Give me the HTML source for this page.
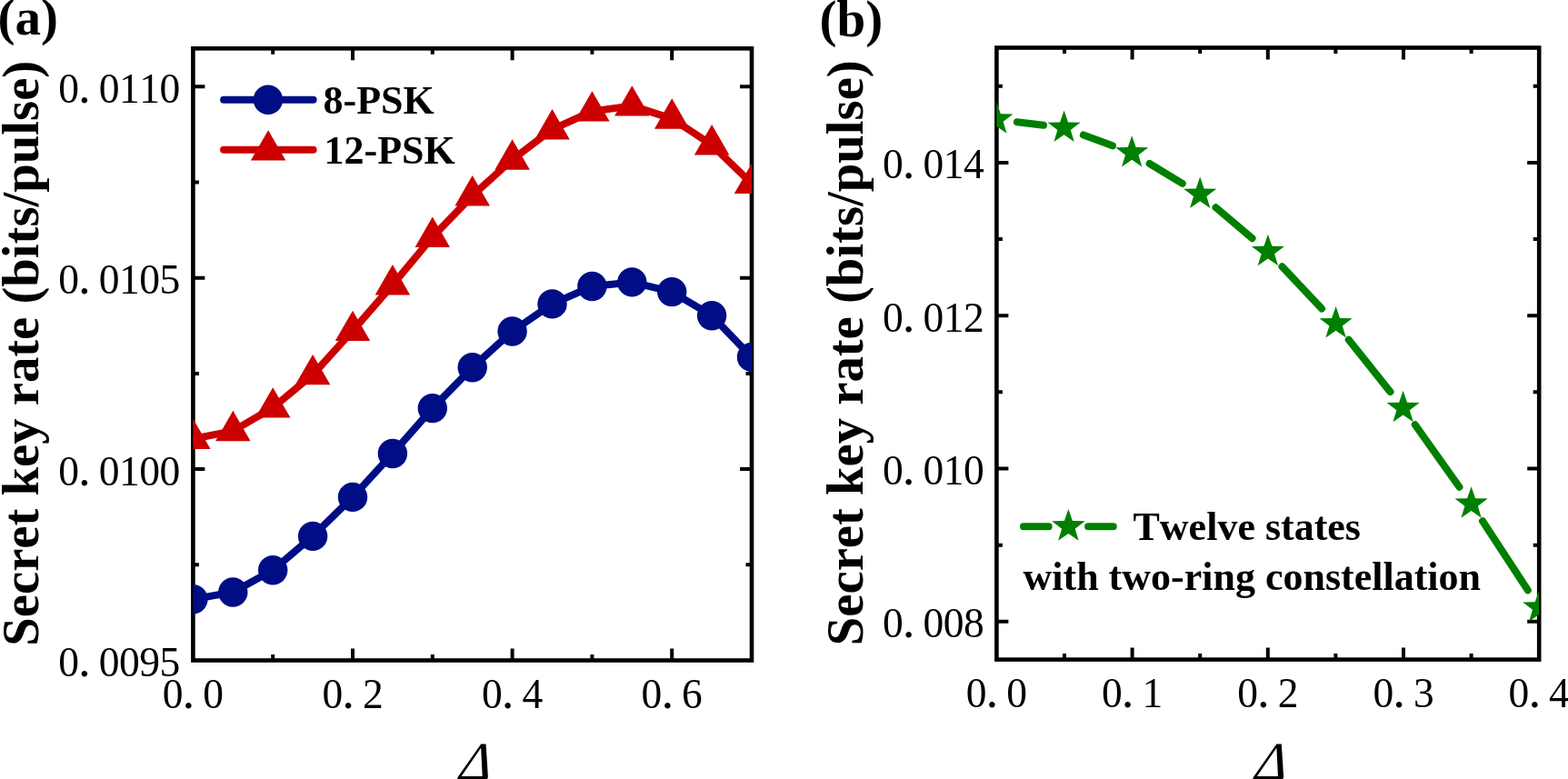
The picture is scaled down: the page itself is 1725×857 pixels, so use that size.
<!DOCTYPE html>
<html><head><meta charset="utf-8"><title>Secret key rate vs Delta</title>
<style>html,body{margin:0;padding:0;background:#fff;}body{width:1725px;height:857px;overflow:hidden;}svg{display:block;}text{font-kerning:none;}</style>
</head><body>
<svg width="1725" height="857" viewBox="0 0 1725 857">
<defs><clipPath id="ca"><rect x="212.4" y="53.3" width="614.6" height="673.2"/></clipPath>
<clipPath id="cb"><rect x="1096.4" y="52.5" width="596.8" height="673.1"/></clipPath></defs>
<rect width="1725" height="857" fill="#fff"/>
<path d="M388 726.5V713.5M388 53.3V66.3M563.6 726.5V713.5M563.6 53.3V66.3M739.2 726.5V713.5M739.2 53.3V66.3M300.2 726.5V720M300.2 53.3V59.8M475.8 726.5V720M475.8 53.3V59.8M651.4 726.5V720M651.4 53.3V59.8M212.4 516.1H225.4M827 516.1H814M212.4 305.7H225.4M827 305.7H814M212.4 95.3H225.4M827 95.3H814M212.4 621.3H218.9M827 621.3H820.5M212.4 410.9H218.9M827 410.9H820.5M212.4 200.5H218.9M827 200.5H820.5" stroke="#000" stroke-width="4" fill="none"/>
<rect x="212.4" y="53.3" width="614.6" height="673.2" stroke="#000" stroke-width="4.6" fill="none"/>
<path d="M1245.6 725.6V712.6M1245.6 52.5V65.5M1394.8 725.6V712.6M1394.8 52.5V65.5M1544 725.6V712.6M1544 52.5V65.5M1171 725.6V719.1M1171 52.5V59M1320.2 725.6V719.1M1320.2 52.5V59M1469.4 725.6V719.1M1469.4 52.5V59M1618.6 725.6V719.1M1618.6 52.5V59M1096.4 683.8H1109.4M1693.2 683.8H1680.2M1096.4 515.5H1109.4M1693.2 515.5H1680.2M1096.4 347.2H1109.4M1693.2 347.2H1680.2M1096.4 178.9H1109.4M1693.2 178.9H1680.2M1096.4 599.65H1102.9M1693.2 599.65H1686.7M1096.4 431.35H1102.9M1693.2 431.35H1686.7M1096.4 263.05H1102.9M1693.2 263.05H1686.7M1096.4 94.75H1102.9M1693.2 94.75H1686.7" stroke="#000" stroke-width="4" fill="none"/>
<rect x="1096.4" y="52.5" width="596.8" height="673.1" stroke="#000" stroke-width="4.6" fill="none"/>
<g clip-path="url(#ca)">
<polyline points="212.4,482.8 256.3,474.1 300.2,448.5 344.1,412.2 388,363.9 431.9,313.3 475.8,260.8 519.7,215.3 563.6,175.6 607.5,142.3 651.4,122.5 695.3,116.4 739.2,130.6 783.1,159.3 827,202" fill="none" stroke="#cc0000" stroke-width="8" stroke-linejoin="round" stroke-linecap="round"/>
<path d="M212.4 460.57L231.65 493.91L193.15 493.91ZM256.3 451.87L275.55 485.21L237.05 485.21ZM300.2 426.27L319.45 459.61L280.95 459.61ZM344.1 389.97L363.35 423.31L324.85 423.31ZM388 341.67L407.25 375.01L368.75 375.01ZM431.9 291.07L451.15 324.41L412.65 324.41ZM475.8 238.57L495.05 271.91L456.55 271.91ZM519.7 193.07L538.95 226.41L500.45 226.41ZM563.6 153.37L582.85 186.71L544.35 186.71ZM607.5 120.07L626.75 153.41L588.25 153.41ZM651.4 100.27L670.65 133.61L632.15 133.61ZM695.3 94.17L714.55 127.51L676.05 127.51ZM739.2 108.37L758.45 141.71L719.95 141.71ZM783.1 137.07L802.35 170.41L763.85 170.41ZM827 179.77L846.25 213.11L807.75 213.11Z" fill="#cc0000"/>
<polyline points="212.4,659.3 256.3,651.5 300.2,627.2 344.1,589.9 388,546.9 431.9,499 475.8,449.1 519.7,404.3 563.6,364.5 607.5,334.4 651.4,315 695.3,310.4 739.2,321.1 783.1,347.2 827,392.9" fill="none" stroke="#000d85" stroke-width="8" stroke-linejoin="round" stroke-linecap="round"/>
<g fill="#000d85"><circle cx="212.4" cy="659.3" r="16.2"/><circle cx="256.3" cy="651.5" r="16.2"/><circle cx="300.2" cy="627.2" r="16.2"/><circle cx="344.1" cy="589.9" r="16.2"/><circle cx="388" cy="546.9" r="16.2"/><circle cx="431.9" cy="499" r="16.2"/><circle cx="475.8" cy="449.1" r="16.2"/><circle cx="519.7" cy="404.3" r="16.2"/><circle cx="563.6" cy="364.5" r="16.2"/><circle cx="607.5" cy="334.4" r="16.2"/><circle cx="651.4" cy="315" r="16.2"/><circle cx="695.3" cy="310.4" r="16.2"/><circle cx="739.2" cy="321.1" r="16.2"/><circle cx="783.1" cy="347.2" r="16.2"/><circle cx="827" cy="392.9" r="16.2"/></g>
</g>
<g clip-path="url(#cb)">
<path d="M1118.93 134.19L1148.07 137.81M1191.89 148.48L1223.91 160.32M1264.62 179.96L1300.78 201.84M1337.53 228.26L1377.57 262.14M1410.46 293.32L1454.04 339.58M1483.76 373.84L1529.44 431.06M1556.75 467.3L1605.45 535.8M1631.03 573.29L1680.77 649.31" stroke="#007f00" stroke-width="8" stroke-linecap="round" fill="none"/>
<path d="M1096.4 112.4L1100.87 125.25L1114.47 125.53L1103.63 133.75L1107.57 146.77L1096.4 139L1085.23 146.77L1089.17 133.75L1078.33 125.53L1091.93 125.25ZM1170.6 121.6L1175.07 134.45L1188.67 134.73L1177.83 142.95L1181.77 155.97L1170.6 148.2L1159.43 155.97L1163.37 142.95L1152.53 134.73L1166.13 134.45ZM1245.2 149.2L1249.67 162.05L1263.27 162.33L1252.43 170.55L1256.37 183.57L1245.2 175.8L1234.03 183.57L1237.97 170.55L1227.13 162.33L1240.73 162.05ZM1320.2 194.6L1324.67 207.45L1338.27 207.73L1327.43 215.95L1331.37 228.97L1320.2 221.2L1309.03 228.97L1312.97 215.95L1302.13 207.73L1315.73 207.45ZM1394.9 257.8L1399.37 270.65L1412.97 270.93L1402.13 279.15L1406.07 292.17L1394.9 284.4L1383.73 292.17L1387.67 279.15L1376.83 270.93L1390.43 270.65ZM1469.6 337.1L1474.07 349.95L1487.67 350.23L1476.83 358.45L1480.77 371.47L1469.6 363.7L1458.43 371.47L1462.37 358.45L1451.53 350.23L1465.13 349.95ZM1543.6 429.8L1548.07 442.65L1561.67 442.93L1550.83 451.15L1554.77 464.17L1543.6 456.4L1532.43 464.17L1536.37 451.15L1525.53 442.93L1539.13 442.65ZM1618.6 535.3L1623.07 548.15L1636.67 548.43L1625.83 556.65L1629.77 569.67L1618.6 561.9L1607.43 569.67L1611.37 556.65L1600.53 548.43L1614.13 548.15ZM1693.2 649.3L1697.67 662.15L1711.27 662.43L1700.43 670.65L1704.37 683.67L1693.2 675.9L1682.03 683.67L1685.97 670.65L1675.13 662.43L1688.73 662.15Z" fill="#007f00"/>
</g>
<g font-family='"Liberation Serif", "Noto Serif CJK SC", serif' font-size="45.5" fill="#000" stroke="#000" stroke-width="0">
<text y="744"><tspan x="64.25">0</tspan><tspan x="86.07" font-size="55">.</tspan><tspan x="108.75">0</tspan><tspan x="131">0</tspan><tspan x="153.25">9</tspan><tspan x="175.5">5</tspan></text>
<text y="533.6"><tspan x="64.25">0</tspan><tspan x="86.07" font-size="55">.</tspan><tspan x="108.75">0</tspan><tspan x="131">1</tspan><tspan x="153.25">0</tspan><tspan x="175.5">0</tspan></text>
<text y="323.2"><tspan x="64.25">0</tspan><tspan x="86.07" font-size="55">.</tspan><tspan x="108.75">0</tspan><tspan x="131">1</tspan><tspan x="153.25">0</tspan><tspan x="175.5">5</tspan></text>
<text y="112.8"><tspan x="64.25">0</tspan><tspan x="86.07" font-size="55">.</tspan><tspan x="108.75">0</tspan><tspan x="131">1</tspan><tspan x="153.25">1</tspan><tspan x="175.5">0</tspan></text>
<text y="778.8"><tspan x="178.78">0</tspan><tspan x="200.59" font-size="55">.</tspan><tspan x="223.28">0</tspan></text>
<text y="778.8"><tspan x="354.38">0</tspan><tspan x="376.19" font-size="55">.</tspan><tspan x="398.88">2</tspan></text>
<text y="778.8"><tspan x="529.98">0</tspan><tspan x="551.8" font-size="55">.</tspan><tspan x="574.48">4</tspan></text>
<text y="778.8"><tspan x="705.57">0</tspan><tspan x="727.39" font-size="55">.</tspan><tspan x="750.07">6</tspan></text>
<text y="701.3"><tspan x="971">0</tspan><tspan x="992.82" font-size="55">.</tspan><tspan x="1015.5">0</tspan><tspan x="1037.75">0</tspan><tspan x="1060">8</tspan></text>
<text y="533"><tspan x="971">0</tspan><tspan x="992.82" font-size="55">.</tspan><tspan x="1015.5">0</tspan><tspan x="1037.75">1</tspan><tspan x="1060">0</tspan></text>
<text y="364.7"><tspan x="971">0</tspan><tspan x="992.82" font-size="55">.</tspan><tspan x="1015.5">0</tspan><tspan x="1037.75">1</tspan><tspan x="1060">2</tspan></text>
<text y="196.4"><tspan x="971">0</tspan><tspan x="992.82" font-size="55">.</tspan><tspan x="1015.5">0</tspan><tspan x="1037.75">1</tspan><tspan x="1060">4</tspan></text>
<text y="777.9"><tspan x="1062.78">0</tspan><tspan x="1084.6" font-size="55">.</tspan><tspan x="1107.28">0</tspan></text>
<text y="777.9"><tspan x="1211.98">0</tspan><tspan x="1233.8" font-size="55">.</tspan><tspan x="1256.48">1</tspan></text>
<text y="777.9"><tspan x="1361.18">0</tspan><tspan x="1383" font-size="55">.</tspan><tspan x="1405.68">2</tspan></text>
<text y="777.9"><tspan x="1510.38">0</tspan><tspan x="1532.19" font-size="55">.</tspan><tspan x="1554.88">3</tspan></text>
<text y="777.9"><tspan x="1659.58">0</tspan><tspan x="1681.4" font-size="55">.</tspan><tspan x="1704.08">4</tspan></text>
</g>
<g font-family='"Liberation Serif", "Times New Roman", serif' font-weight="bold" font-size="57" fill="#000">
<text x="-2.5" y="38.3">(a)</text>
<text x="901.5" y="39.8">(b)</text>
<text font-size="56.7" transform="translate(42.3 710.7) rotate(-90)">Secret key rate (bits/pulse)</text>
<text font-size="56.7" transform="translate(948.6 710.2) rotate(-90)">Secret key rate (bits/pulse)</text>
</g>
<g font-family='"Liberation Serif", "Times New Roman", serif' font-size="57" fill="#000" text-anchor="middle">
<text font-size="58.5" transform="translate(519.6 857.4) skewX(-18)">&#916;</text>
<text font-size="58.5" transform="translate(1394.8 856.6) skewX(-18)">&#916;</text>
</g>
<g font-family='"Liberation Serif", "Times New Roman", serif' font-weight="bold" font-size="44" fill="#000">
<text x="355.5" y="124.6">8-PSK</text>
<text x="356.5" y="179.8">12-PSK</text>
<text x="1246.5" y="594.4">Twelve states</text>
<text x="1125.5" y="648.9">with two-ring constellation</text>
</g>
<path d="M246.1 109.7H344.6" stroke="#000d85" stroke-width="8" stroke-linecap="round"/>
<circle cx="294.9" cy="109.7" r="16.2" fill="#000d85"/>
<path d="M246.1 164.7H344.6" stroke="#cc0000" stroke-width="8" stroke-linecap="round"/>
<path d="M295.1 143.17L314.35 176.51L275.85 176.51Z" fill="#cc0000"/>
<path d="M1126 579.3H1153.7M1197.1 579.3H1224.8" stroke="#007f00" stroke-width="8" stroke-linecap="round"/>
<path d="M1175.4 560.1L1179.91 573.09L1193.66 573.37L1182.7 581.67L1186.69 594.83L1175.4 586.98L1164.11 594.83L1168.1 581.67L1157.14 573.37L1170.89 573.09Z" fill="#007f00"/>
</svg>
</body></html>
